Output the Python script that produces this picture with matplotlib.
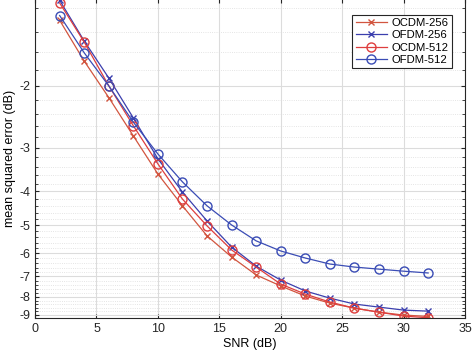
import numpy as np
import matplotlib.pyplot as plt
from matplotlib.ticker import FixedLocator, NullFormatter

plt.rcParams['font.family'] = ['Liberation Sans', 'DejaVu Sans']

snr = [2, 4, 6, 8, 10, 12, 14, 16, 18, 20, 22, 24, 26, 28, 30, 32]

# magnitudes of the MSE (dB), axis is log scaled and shown with a minus sign
ocdm_256 = [1.30, 1.70, 2.16, 2.78, 3.57, 4.40, 5.36, 6.16, 6.93, 7.45,
            7.96, 8.34, 8.62, 8.85, 9.02, 9.10]
ofdm_256 = [1.14, 1.49, 1.90, 2.47, 3.23, 4.02, 4.86, 5.77, 6.54, 7.17,
            7.70, 8.07, 8.39, 8.56, 8.73, 8.79]
ocdm_512 = [1.16, 1.50, 2.00, 2.60, 3.34, 4.21, 5.02, 5.88, 6.58, 7.36,
            7.86, 8.28, 8.62, 8.85, 9.08, 9.18]
ofdm_512 = [1.26, 1.61, 2.00, 2.54, 3.13, 3.76, 4.40, 4.99, 5.54, 5.92,
            6.20, 6.45, 6.58, 6.67, 6.76, 6.84]

ytick_vals = [2, 3, 4, 5, 6, 7, 8, 9]
ytick_labels = ['-2', '-3', '-4', '-5', '-6', '-7', '-8', '-9']

fig = plt.figure(figsize=(4.74, 3.55), dpi=100)
ax = fig.add_axes([0.074, 0.104, 0.907, 0.899])

ax.plot(snr, ocdm_256, color='#d2553f', marker='x', ms=4.5, lw=0.9, label='OCDM-256')
ax.plot(snr, ofdm_256, color='#3b3fae', marker='x', ms=4.5, lw=0.9, label='OFDM-256')
ax.plot(snr, ocdm_512, color='#de3e3e', marker='o', ms=6.5, mfc='none', lw=0.9, label='OCDM-512')
ax.plot(snr, ofdm_512, color='#3a4cb5', marker='o', ms=6.5, mfc='none', lw=0.9, label='OFDM-512')

ax.set_yscale('log')
ax.set_ylim(9.2, 1.13)
ax.set_xlim(0, 35)
ax.set_xticks(np.arange(0, 36, 5))
ax.yaxis.set_major_locator(FixedLocator(ytick_vals))
ax.set_yticklabels(ytick_labels)
ax.yaxis.set_minor_locator(FixedLocator(np.arange(1.2, 9.2, 0.2)))
ax.yaxis.set_minor_formatter(NullFormatter())

ax.grid(True, which='major', color='#dcdcdc', lw=0.8)
ax.grid(True, which='minor', axis='y', color='#dcdcdc', lw=0.6, ls=':')
ax.set_axisbelow(True)

ax.tick_params(which='both', direction='in', top=True, right=True, labelsize=9, colors='#262626')
ax.tick_params(which='major', length=3)
ax.tick_params(which='minor', length=2)
for s in ax.spines.values():
    s.set_color('#262626')
    s.set_linewidth(0.8)

ax.set_xlabel('SNR (dB)', fontsize=9, labelpad=2)
ax.set_ylabel('mean squared error (dB)', fontsize=9, labelpad=2)

leg = ax.legend(loc='upper right', fontsize=8.1, fancybox=False, framealpha=1,
                edgecolor='#262626', borderpad=0.3, labelspacing=0.2,
                handlelength=2.8, handletextpad=0.4, bbox_to_anchor=(0.983, 0.968))
leg.get_frame().set_linewidth(0.8)

fig.savefig('out.png', dpi=100)
